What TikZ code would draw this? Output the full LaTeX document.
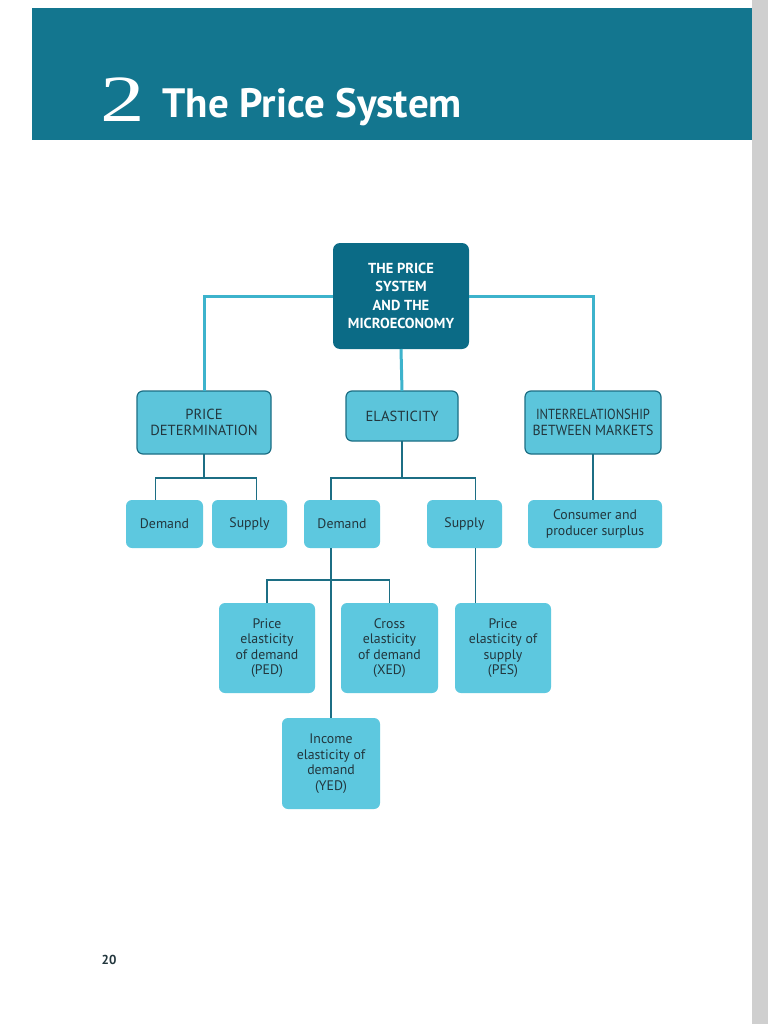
\documentclass[tikz,border=0pt]{standalone}
\usepackage{fontspec}
\setmainfont{PT Sans}
\newfontfamily\numfont{Liberation Serif}
\usetikzlibrary{calc}

\definecolor{bandteal}{HTML}{13768F}
\definecolor{topteal}{HTML}{0B6B86}
\definecolor{boxteal}{HTML}{5CC5DB}
\definecolor{leafteal}{HTML}{5DC8DF}
\definecolor{linelight}{HTML}{3DB3CC}
\definecolor{linedark}{HTML}{1C6E84}
\definecolor{boxtext}{HTML}{22363D}
\definecolor{pageedge}{HTML}{CFCFCF}

\tikzset{
  topbox/.style={fill=topteal, text=white, rounded corners=7pt, align=center,
    font=\bfseries\fontsize{14.5}{18.5}\selectfont, minimum width=136pt, minimum height=106pt},
  catbox/.style={draw=linedark, line width=1.2pt, fill=boxteal, text=boxtext, rounded corners=6pt,
    align=center, font=\fontsize{14.6}{16}\selectfont},
  leafbox/.style={fill=leafteal, text=boxtext, rounded corners=6pt, align=center,
    font=\fontsize{13.8}{15.5}\selectfont},
  link/.style={draw=linelight, line width=3pt},
  sublink/.style={draw=linedark, line width=1.3pt}
}

\begin{document}
\begin{tikzpicture}[x=1pt, y=-1pt, inner sep=0pt, outer sep=0pt]
    \useasboundingbox (0,0) rectangle (768,1024);
    % page and header band
    \fill[white] (0,0) rectangle (768,1024);
    \fill[pageedge] (752,0) rectangle (768,1024);
    \fill[bandteal] (32,8) rectangle (752,140);
    \node[anchor=base west, text=white] (chapnum) at (100,122)
    {\numfont\fontsize{66}{66}\selectfont\scalebox{1.35}[1]{2}};
    \node[anchor=base west, text=white] (chaptitle) at ($(chapnum.base east)+(18,-4)$)
    {\bfseries\fontsize{41}{41}\selectfont The Price System};

    % top level
    \node[topbox, anchor=north west] (psys) at (333,243)
    {THE PRICE\\SYSTEM\\AND THE\\MICROECONOMY};

    \node[catbox, anchor=north west, minimum width=134pt, minimum height=63pt] (pdet) at (137,391)
    {PRICE\\DETERMINATION};
    \node[catbox, anchor=north west, minimum width=112pt, minimum height=50pt] (elast) at (346,391)
    {ELASTICITY};
    \node[catbox, anchor=north west, minimum width=136pt, minimum height=63pt] (interrel) at (525,391)
    {\scalebox{0.86}[1]{INTERRELATIONSHIP}\\\scalebox{0.95}[1]{BETWEEN MARKETS}};

    % second row
    \node[leafbox, anchor=north west, minimum width=77pt, minimum height=48pt] (pdem) at (126,500) {Demand};
    \node[leafbox, anchor=north west, minimum width=75pt, minimum height=48pt] (psup) at (212,500) {Supply};
    \node[leafbox, anchor=north west, minimum width=76pt, minimum height=48pt] (edem) at (304,500) {Demand};
    \node[leafbox, anchor=north west, minimum width=75pt, minimum height=48pt] (esup) at (427,500) {Supply};
    \node[leafbox, anchor=north west, minimum width=134pt, minimum height=48pt] (surplus) at (528,500)
    {Consumer and\\producer surplus};

    % elasticities
    \node[leafbox, anchor=north west, minimum width=96pt, minimum height=90pt] (ped) at (219,603)
    {Price\\elasticity\\of demand\\(PED)};
    \node[leafbox, anchor=north west, minimum width=97pt, minimum height=90pt] (xed) at (341,603)
    {Cross\\elasticity\\of demand\\(XED)};
    \node[leafbox, anchor=north west, minimum width=96pt, minimum height=90pt] (pes) at (455,603)
    {Price\\elasticity of\\supply\\(PES)};
    \node[leafbox, anchor=north west, minimum width=98pt, minimum height=91pt] (yed) at (282,718)
    {Income\\elasticity of\\demand\\(YED)};

    % page number
    \node[font=\bfseries\fontsize{13}{13}\selectfont, text=boxtext] (pagenum) at (109,960) {20};

    % main links
    \draw[link] (psys.west) -| (pdet.north);
    \draw[link] (psys.east) -| (interrel.north);
    \draw[link] (psys.south) -- (elast.north);

    % price determination
    \coordinate (pjoin) at ($(pdet.south)+(0,24)$);
    \draw[sublink] (pdet.south) -- (pjoin);
    \draw[sublink] ($(pdem.north)+(-9,0)$) |- (pjoin) -| ($(psup.north)+(7,0)$);

    % elasticity
    \coordinate (ejoin) at ($(elast.south)+(0,37)$);
    \coordinate (edemtap) at (yed.north |- edem.north);
    \coordinate (esuptap) at ($(esup.north)+(11,0)$);
    \draw[sublink] (elast.south) -- (ejoin);
    \draw[sublink] (edemtap) |- (ejoin) -| (esuptap);

    % markets
    \draw[sublink] (interrel.south) -- (interrel.south |- surplus.north);

    % demand elasticities
    \coordinate (djoin) at ($(yed.north |- edem.south)+(0,32)$);
    \draw[sublink] (yed.north |- edem.south) -- (yed.north);
    \draw[sublink] (ped.north) |- (djoin) -| (xed.north);

    % supply elasticity
    \coordinate (stap) at ($(esup.south)+(11,0)$);
    \draw[sublink] (stap) -- (stap |- pes.north);

\end{tikzpicture}
\end{document}
